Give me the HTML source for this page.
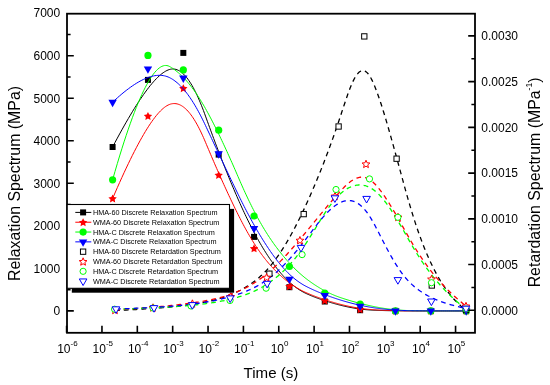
<!DOCTYPE html>
<html><head><meta charset="utf-8"><style>html,body{margin:0;padding:0;background:#fff;}svg{display:block;}</style></head>
<body><svg width="550" height="385" viewBox="0 0 550 385">
<rect width="550" height="385" fill="#fff"/>
<defs><clipPath id="cp"><rect x="67.0" y="13.7" width="408.0" height="319.1"/></clipPath></defs>
<g clip-path="url(#cp)">
<path d="M112.60,147.00 L114.99,142.50 L117.33,138.14 L119.62,133.94 L121.86,129.88 L124.06,125.96 L126.21,122.19 L128.32,118.56 L130.38,115.07 L132.39,111.72 L134.36,108.51 L136.29,105.43 L138.18,102.49 L140.02,99.69 L141.83,97.01 L143.59,94.47 L145.32,92.06 L147.00,89.78 L148.65,87.62 L150.26,85.59 L151.84,83.68 L153.38,81.89 L154.88,80.23 L156.35,78.69 L157.78,77.27 L159.18,75.96 L160.55,74.77 L161.89,73.69 L163.19,72.73 L164.46,71.88 L165.71,71.14 L166.92,70.51 L168.11,69.98 L169.27,69.57 L170.40,69.26 L171.53,69.06 L172.66,68.98 L173.77,69.02 L174.88,69.16 L175.99,69.42 L177.09,69.78 L178.19,70.25 L179.28,70.82 L180.37,71.51 L181.45,72.29 L182.53,73.18 L183.60,74.17 L184.68,75.26 L185.74,76.44 L186.81,77.73 L187.87,79.11 L188.92,80.59 L189.98,82.16 L191.03,83.82 L192.08,85.57 L193.12,87.42 L194.16,89.35 L195.20,91.37 L196.24,93.48 L197.27,95.67 L198.31,97.95 L199.34,100.31 L200.37,102.75 L201.39,105.27 L202.42,107.87 L203.44,110.54 L204.47,113.30 L205.49,116.11 L206.51,118.93 L207.53,121.74 L208.55,124.54 L209.57,127.33 L210.58,130.11 L211.60,132.88 L212.62,135.63 L213.63,138.37 L214.65,141.09 L215.67,143.80 L216.69,146.49 L217.70,149.16 L218.72,151.82 L219.74,154.46 L220.75,157.08 L221.77,159.68 L222.79,162.27 L223.81,164.85 L224.82,167.40 L225.84,169.94 L226.86,172.46 L227.87,174.96 L228.89,177.45 L229.91,179.92 L230.92,182.37 L231.94,184.80 L232.96,187.21 L233.98,189.61 L234.99,191.99 L236.01,194.35 L237.03,196.69 L238.04,199.02 L239.06,201.32 L240.08,203.60 L241.09,205.86 L242.11,208.09 L243.13,210.30 L244.15,212.47 L245.16,214.63 L246.18,216.75 L247.20,218.86 L248.21,220.93 L249.23,222.98 L250.25,225.00 L251.27,227.00 L252.28,228.97 L253.30,230.91 L254.32,232.82 L255.33,234.71 L256.35,236.58 L257.37,238.41 L258.38,240.22 L259.40,242.00 L260.42,243.76 L261.44,245.49 L262.45,247.19 L263.47,248.87 L264.49,250.51 L265.50,252.14 L266.52,253.73 L267.54,255.30 L268.56,256.84 L269.57,258.35 L270.59,259.84 L271.61,261.30 L272.62,262.73 L273.64,264.13 L274.66,265.50 L275.67,266.85 L276.69,268.16 L277.71,269.45 L278.73,270.70 L279.74,271.93 L280.76,273.13 L281.78,274.29 L282.79,275.43 L283.81,276.54 L284.83,277.62 L285.84,278.67 L286.86,279.68 L287.88,280.67 L288.90,281.63 L289.91,282.56 L290.93,283.46 L291.95,284.33 L292.96,285.17 L293.98,285.98 L295.00,286.76 L296.02,287.52 L297.03,288.24 L298.05,288.94 L299.07,289.61 L300.08,290.25 L301.10,290.87 L302.12,291.45 L303.13,292.01 L304.15,292.55 L305.17,293.06 L306.19,293.54 L307.20,294.00 L308.22,294.45 L309.24,294.89 L310.25,295.33 L311.27,295.75 L312.29,296.17 L313.30,296.58 L314.32,296.98 L315.34,297.37 L316.36,297.76 L317.37,298.14 L318.39,298.51 L319.41,298.87 L320.42,299.23 L321.44,299.59 L322.46,299.93 L323.48,300.27 L324.49,300.61 L325.51,300.94 L326.53,301.26 L327.54,301.58 L328.56,301.90 L329.58,302.21 L330.59,302.51 L331.61,302.82 L332.63,303.11 L333.65,303.40 L334.66,303.69 L335.68,303.97 L336.70,304.25 L337.71,304.52 L338.73,304.79 L339.75,305.05 L340.77,305.31 L341.78,305.56 L342.80,305.81 L343.82,306.05 L344.83,306.28 L345.85,306.51 L346.87,306.73 L347.88,306.94 L348.90,307.15 L349.92,307.35 L350.94,307.54 L351.95,307.73 L352.97,307.92 L353.99,308.09 L355.00,308.26 L356.02,308.42 L357.04,308.58 L358.05,308.73 L359.07,308.87 L360.09,309.01 L361.11,309.14 L362.12,309.26 L363.14,309.38 L364.16,309.49 L365.17,309.60 L366.19,309.69 L367.21,309.78 L368.23,309.87 L369.24,309.95 L370.26,310.02 L371.28,310.08 L372.30,310.14 L373.32,310.19 L374.34,310.24 L375.37,310.28 L376.39,310.33 L377.42,310.37 L378.44,310.40 L379.47,310.44 L380.50,310.47 L381.54,310.50 L382.57,310.53 L383.61,310.56 L384.65,310.59 L385.69,310.61 L386.73,310.64 L387.78,310.66 L388.83,310.68 L389.89,310.70 L390.94,310.72 L392.00,310.73 L393.07,310.75 L394.13,310.76 L395.20,310.78 L396.28,310.79 L397.36,310.80 L398.44,310.81 L399.53,310.82 L400.62,310.83 L401.72,310.83 L402.82,310.84 L403.93,310.85 L405.04,310.85 L406.15,310.86 L407.28,310.86 L408.40,310.86 L409.54,310.87 L410.70,310.87 L411.89,310.87 L413.10,310.88 L414.34,310.88 L415.62,310.88 L416.92,310.88 L418.26,310.88 L419.63,310.89 L421.03,310.89 L422.46,310.89 L423.93,310.89 L425.43,310.89 L426.97,310.89 L428.54,310.89 L430.16,310.89 L431.80,310.90 L433.49,310.90 L435.22,310.90 L436.98,310.90 L438.78,310.90 L440.63,310.90 L442.52,310.90 L444.45,310.90 L446.42,310.90 L448.43,310.90 L450.49,310.90 L452.60,310.90 L454.75,310.90 L456.94,310.90 L459.19,310.90 L461.48,310.90 L463.82,310.90 L466.20,310.90" fill="none" stroke="#000" stroke-width="1.0"/>
<rect x="109.60" y="144.00" width="6.0" height="6.0" fill="#000"/>
<rect x="144.96" y="76.90" width="6.0" height="6.0" fill="#000"/>
<rect x="180.32" y="49.90" width="6.0" height="6.0" fill="#000"/>
<rect x="215.68" y="151.60" width="6.0" height="6.0" fill="#000"/>
<rect x="251.04" y="233.90" width="6.0" height="6.0" fill="#000"/>
<rect x="286.40" y="284.20" width="6.0" height="6.0" fill="#000"/>
<rect x="321.76" y="298.50" width="6.0" height="6.0" fill="#000"/>
<rect x="357.12" y="307.20" width="6.0" height="6.0" fill="#000"/>
<rect x="392.48" y="307.90" width="6.0" height="6.0" fill="#000"/>
<rect x="427.84" y="307.90" width="6.0" height="6.0" fill="#000"/>
<rect x="463.20" y="307.90" width="6.0" height="6.0" fill="#000"/>
<path d="M112.60,198.50 L114.99,192.97 L117.33,187.62 L119.62,182.47 L121.86,177.50 L124.06,172.72 L126.21,168.11 L128.32,163.69 L130.38,159.44 L132.39,155.37 L134.36,151.47 L136.29,147.75 L138.18,144.19 L140.02,140.79 L141.83,137.57 L143.59,134.50 L145.32,131.59 L147.00,128.84 L148.65,126.25 L150.26,123.81 L151.84,121.52 L153.38,119.38 L154.88,117.39 L156.35,115.54 L157.78,113.84 L159.18,112.27 L160.55,110.85 L161.89,109.55 L163.19,108.40 L164.46,107.37 L165.71,106.48 L166.92,105.71 L168.11,105.07 L169.27,104.55 L170.40,104.14 L171.53,103.85 L172.66,103.66 L173.77,103.57 L174.88,103.58 L175.99,103.69 L177.09,103.89 L178.19,104.19 L179.28,104.59 L180.37,105.08 L181.45,105.67 L182.53,106.34 L183.60,107.11 L184.68,107.97 L185.74,108.91 L186.81,109.95 L187.87,111.07 L188.92,112.27 L189.98,113.56 L191.03,114.93 L192.08,116.39 L193.12,117.92 L194.16,119.54 L195.20,121.23 L196.24,123.00 L197.27,124.85 L198.31,126.78 L199.34,128.77 L200.37,130.85 L201.39,132.99 L202.42,135.21 L203.44,137.49 L204.47,139.85 L205.49,142.26 L206.51,144.67 L207.53,147.09 L208.55,149.49 L209.57,151.89 L210.58,154.29 L211.60,156.67 L212.62,159.05 L213.63,161.42 L214.65,163.77 L215.67,166.12 L216.69,168.45 L217.70,170.77 L218.72,173.08 L219.74,175.37 L220.75,177.66 L221.77,179.93 L222.79,182.19 L223.81,184.43 L224.82,186.67 L225.84,188.89 L226.86,191.09 L227.87,193.29 L228.89,195.47 L229.91,197.63 L230.92,199.78 L231.94,201.92 L232.96,204.05 L233.98,206.16 L234.99,208.25 L236.01,210.33 L237.03,212.40 L238.04,214.45 L239.06,216.48 L240.08,218.49 L241.09,220.47 L242.11,222.43 L243.13,224.35 L244.15,226.25 L245.16,228.12 L246.18,229.96 L247.20,231.77 L248.21,233.56 L249.23,235.31 L250.25,237.04 L251.27,238.74 L252.28,240.41 L253.30,242.05 L254.32,243.66 L255.33,245.24 L256.35,246.79 L257.37,248.31 L258.38,249.80 L259.40,251.27 L260.42,252.70 L261.44,254.11 L262.45,255.49 L263.47,256.84 L264.49,258.16 L265.50,259.46 L266.52,260.72 L267.54,261.96 L268.56,263.17 L269.57,264.36 L270.59,265.51 L271.61,266.64 L272.62,267.74 L273.64,268.81 L274.66,269.87 L275.67,270.90 L276.69,271.91 L277.71,272.91 L278.73,273.88 L279.74,274.83 L280.76,275.76 L281.78,276.67 L282.79,277.56 L283.81,278.43 L284.83,279.28 L285.84,280.11 L286.86,280.92 L287.88,281.71 L288.90,282.48 L289.91,283.23 L290.93,283.96 L291.95,284.67 L292.96,285.37 L293.98,286.04 L295.00,286.69 L296.02,287.33 L297.03,287.95 L298.05,288.54 L299.07,289.12 L300.08,289.69 L301.10,290.23 L302.12,290.76 L303.13,291.26 L304.15,291.75 L305.17,292.23 L306.19,292.68 L307.20,293.12 L308.22,293.56 L309.24,293.98 L310.25,294.41 L311.27,294.82 L312.29,295.23 L313.30,295.63 L314.32,296.02 L315.34,296.41 L316.36,296.79 L317.37,297.16 L318.39,297.53 L319.41,297.90 L320.42,298.26 L321.44,298.61 L322.46,298.96 L323.48,299.30 L324.49,299.64 L325.51,299.97 L326.53,300.30 L327.54,300.62 L328.56,300.94 L329.58,301.25 L330.59,301.56 L331.61,301.87 L332.63,302.17 L333.65,302.46 L334.66,302.76 L335.68,303.04 L336.70,303.32 L337.71,303.60 L338.73,303.88 L339.75,304.14 L340.77,304.41 L341.78,304.66 L342.80,304.92 L343.82,305.16 L344.83,305.40 L345.85,305.64 L346.87,305.87 L347.88,306.09 L348.90,306.31 L349.92,306.52 L350.94,306.72 L351.95,306.92 L352.97,307.11 L353.99,307.30 L355.00,307.48 L356.02,307.66 L357.04,307.83 L358.05,307.99 L359.07,308.15 L360.09,308.30 L361.11,308.44 L362.12,308.58 L363.14,308.72 L364.16,308.84 L365.17,308.96 L366.19,309.08 L367.21,309.19 L368.23,309.29 L369.24,309.39 L370.26,309.48 L371.28,309.56 L372.30,309.64 L373.32,309.71 L374.34,309.78 L375.37,309.84 L376.39,309.91 L377.42,309.96 L378.44,310.02 L379.47,310.08 L380.50,310.13 L381.54,310.18 L382.57,310.23 L383.61,310.27 L384.65,310.32 L385.69,310.36 L386.73,310.40 L387.78,310.43 L388.83,310.47 L389.89,310.50 L390.94,310.53 L392.00,310.56 L393.07,310.59 L394.13,310.62 L395.20,310.64 L396.28,310.67 L397.36,310.69 L398.44,310.71 L399.53,310.73 L400.62,310.74 L401.72,310.76 L402.82,310.77 L403.93,310.79 L405.04,310.80 L406.15,310.81 L407.28,310.82 L408.40,310.82 L409.54,310.83 L410.70,310.84 L411.89,310.84 L413.10,310.85 L414.34,310.85 L415.62,310.86 L416.92,310.86 L418.26,310.87 L419.63,310.87 L421.03,310.87 L422.46,310.88 L423.93,310.88 L425.43,310.88 L426.97,310.88 L428.54,310.89 L430.16,310.89 L431.80,310.89 L433.49,310.89 L435.22,310.89 L436.98,310.89 L438.78,310.90 L440.63,310.90 L442.52,310.90 L444.45,310.90 L446.42,310.90 L448.43,310.90 L450.49,310.90 L452.60,310.90 L454.75,310.90 L456.94,310.90 L459.19,310.90 L461.48,310.90 L463.82,310.90 L466.20,310.90" fill="none" stroke="#ff0000" stroke-width="1.0"/>
<path d="M112.60,194.50 L113.90,197.12 L116.79,197.54 L114.70,199.58 L115.19,202.46 L112.60,201.10 L110.02,202.46 L110.51,199.58 L108.42,197.54 L111.31,197.12Z" fill="#ff0000"/>
<path d="M147.96,112.00 L149.26,114.62 L152.15,115.04 L150.06,117.08 L150.55,119.96 L147.96,118.60 L145.38,119.96 L145.87,117.08 L143.78,115.04 L146.67,114.62Z" fill="#ff0000"/>
<path d="M183.32,84.20 L184.62,86.82 L187.51,87.24 L185.42,89.28 L185.91,92.16 L183.32,90.80 L180.74,92.16 L181.23,89.28 L179.14,87.24 L182.03,86.82Z" fill="#ff0000"/>
<path d="M218.68,171.00 L219.98,173.62 L222.87,174.04 L220.78,176.08 L221.27,178.96 L218.68,177.60 L216.10,178.96 L216.59,176.08 L214.50,174.04 L217.39,173.62Z" fill="#ff0000"/>
<path d="M254.04,244.30 L255.34,246.92 L258.23,247.34 L256.14,249.38 L256.63,252.26 L254.04,250.90 L251.46,252.26 L251.95,249.38 L249.86,247.34 L252.75,246.92Z" fill="#ff0000"/>
<path d="M289.40,282.20 L290.70,284.82 L293.59,285.24 L291.50,287.28 L291.99,290.16 L289.40,288.80 L286.82,290.16 L287.31,287.28 L285.22,285.24 L288.11,284.82Z" fill="#ff0000"/>
<path d="M324.76,296.50 L326.06,299.12 L328.95,299.54 L326.86,301.58 L327.35,304.46 L324.76,303.10 L322.18,304.46 L322.67,301.58 L320.58,299.54 L323.47,299.12Z" fill="#ff0000"/>
<path d="M360.12,305.40 L361.42,308.02 L364.31,308.44 L362.22,310.48 L362.71,313.36 L360.12,312.00 L357.54,313.36 L358.03,310.48 L355.94,308.44 L358.83,308.02Z" fill="#ff0000"/>
<path d="M395.48,306.90 L396.78,309.52 L399.67,309.94 L397.58,311.98 L398.07,314.86 L395.48,313.50 L392.90,314.86 L393.39,311.98 L391.30,309.94 L394.19,309.52Z" fill="#ff0000"/>
<path d="M430.84,306.90 L432.14,309.52 L435.03,309.94 L432.94,311.98 L433.43,314.86 L430.84,313.50 L428.26,314.86 L428.75,311.98 L426.66,309.94 L429.55,309.52Z" fill="#ff0000"/>
<path d="M466.20,306.90 L467.50,309.52 L470.39,309.94 L468.30,311.98 L468.79,314.86 L466.20,313.50 L463.62,314.86 L464.11,311.98 L462.02,309.94 L464.91,309.52Z" fill="#ff0000"/>
<path d="M112.60,179.80 L114.99,171.50 L117.33,163.56 L119.62,155.97 L121.86,148.74 L124.06,141.86 L126.21,135.32 L128.32,129.11 L130.38,123.23 L132.39,117.67 L134.36,112.43 L136.29,107.50 L138.18,102.88 L140.02,98.56 L141.83,94.54 L143.59,90.80 L145.32,87.34 L147.00,84.17 L148.65,81.26 L150.26,78.62 L151.84,76.24 L153.38,74.11 L154.88,72.24 L156.35,70.60 L157.78,69.20 L159.18,68.04 L160.55,67.09 L161.89,66.37 L163.19,65.86 L164.46,65.56 L165.71,65.47 L166.92,65.57 L168.11,65.86 L169.27,66.33 L170.40,66.95 L171.53,67.63 L172.66,68.35 L173.77,69.12 L174.88,69.93 L175.99,70.78 L177.09,71.66 L178.19,72.57 L179.28,73.52 L180.37,74.51 L181.45,75.53 L182.53,76.59 L183.60,77.69 L184.68,78.81 L185.74,79.98 L186.81,81.17 L187.87,82.41 L188.92,83.67 L189.98,84.98 L191.03,86.31 L192.08,87.68 L193.12,89.09 L194.16,90.53 L195.20,92.00 L196.24,93.51 L197.27,95.05 L198.31,96.62 L199.34,98.23 L200.37,99.88 L201.39,101.55 L202.42,103.26 L203.44,105.00 L204.47,106.78 L205.49,108.59 L206.51,110.42 L207.53,112.27 L208.55,114.14 L209.57,116.04 L210.58,117.95 L211.60,119.89 L212.62,121.85 L213.63,123.83 L214.65,125.83 L215.67,127.85 L216.69,129.90 L217.70,131.96 L218.72,134.04 L219.74,136.14 L220.75,138.26 L221.77,140.39 L222.79,142.55 L223.81,144.72 L224.82,146.90 L225.84,149.11 L226.86,151.32 L227.87,153.56 L228.89,155.80 L229.91,158.07 L230.92,160.34 L231.94,162.63 L232.96,164.93 L233.98,167.24 L234.99,169.57 L236.01,171.90 L237.03,174.25 L238.04,176.61 L239.06,178.97 L240.08,181.32 L241.09,183.65 L242.11,185.95 L243.13,188.22 L244.15,190.47 L245.16,192.70 L246.18,194.89 L247.20,197.06 L248.21,199.21 L249.23,201.32 L250.25,203.41 L251.27,205.47 L252.28,207.50 L253.30,209.50 L254.32,211.47 L255.33,213.41 L256.35,215.32 L257.37,217.20 L258.38,219.06 L259.40,220.88 L260.42,222.68 L261.44,224.45 L262.45,226.19 L263.47,227.90 L264.49,229.59 L265.50,231.24 L266.52,232.87 L267.54,234.47 L268.56,236.04 L269.57,237.59 L270.59,239.10 L271.61,240.59 L272.62,242.05 L273.64,243.49 L274.66,244.91 L275.67,246.30 L276.69,247.67 L277.71,249.03 L278.73,250.36 L279.74,251.67 L280.76,252.96 L281.78,254.23 L282.79,255.48 L283.81,256.71 L284.83,257.91 L285.84,259.10 L286.86,260.27 L287.88,261.42 L288.90,262.54 L289.91,263.65 L290.93,264.74 L291.95,265.81 L292.96,266.85 L293.98,267.88 L295.00,268.89 L296.02,269.88 L297.03,270.85 L298.05,271.80 L299.07,272.73 L300.08,273.64 L301.10,274.53 L302.12,275.41 L303.13,276.26 L304.15,277.10 L305.17,277.91 L306.19,278.71 L307.20,279.49 L308.22,280.25 L309.24,281.01 L310.25,281.74 L311.27,282.47 L312.29,283.18 L313.30,283.87 L314.32,284.56 L315.34,285.22 L316.36,285.88 L317.37,286.52 L318.39,287.15 L319.41,287.76 L320.42,288.36 L321.44,288.95 L322.46,289.53 L323.48,290.09 L324.49,290.63 L325.51,291.17 L326.53,291.69 L327.54,292.20 L328.56,292.70 L329.58,293.18 L330.59,293.65 L331.61,294.11 L332.63,294.56 L333.65,294.99 L334.66,295.41 L335.68,295.82 L336.70,296.22 L337.71,296.60 L338.73,296.97 L339.75,297.33 L340.77,297.68 L341.78,298.03 L342.80,298.37 L343.82,298.70 L344.83,299.03 L345.85,299.35 L346.87,299.67 L347.88,299.98 L348.90,300.29 L349.92,300.59 L350.94,300.89 L351.95,301.19 L352.97,301.48 L353.99,301.76 L355.00,302.04 L356.02,302.32 L357.04,302.59 L358.05,302.86 L359.07,303.12 L360.09,303.38 L361.11,303.64 L362.12,303.89 L363.14,304.14 L364.16,304.38 L365.17,304.62 L366.19,304.86 L367.21,305.10 L368.23,305.33 L369.24,305.56 L370.26,305.78 L371.28,306.00 L372.30,306.22 L373.32,306.43 L374.34,306.64 L375.37,306.85 L376.39,307.05 L377.42,307.24 L378.44,307.43 L379.47,307.62 L380.50,307.80 L381.54,307.97 L382.57,308.14 L383.61,308.30 L384.65,308.46 L385.69,308.61 L386.73,308.76 L387.78,308.90 L388.83,309.04 L389.89,309.17 L390.94,309.30 L392.00,309.42 L393.07,309.53 L394.13,309.64 L395.20,309.74 L396.28,309.84 L397.36,309.94 L398.44,310.02 L399.53,310.10 L400.62,310.18 L401.72,310.25 L402.82,310.31 L403.93,310.37 L405.04,310.43 L406.15,310.47 L407.28,310.52 L408.40,310.55 L409.54,310.58 L410.70,310.61 L411.89,310.64 L413.10,310.66 L414.34,310.69 L415.62,310.71 L416.92,310.73 L418.26,310.75 L419.63,310.76 L421.03,310.78 L422.46,310.79 L423.93,310.81 L425.43,310.82 L426.97,310.83 L428.54,310.84 L430.16,310.85 L431.80,310.86 L433.49,310.86 L435.22,310.87 L436.98,310.88 L438.78,310.88 L440.63,310.88 L442.52,310.89 L444.45,310.89 L446.42,310.89 L448.43,310.90 L450.49,310.90 L452.60,310.90 L454.75,310.90 L456.94,310.90 L459.19,310.90 L461.48,310.90 L463.82,310.90 L466.20,310.90" fill="none" stroke="#00ff00" stroke-width="1.0"/>
<circle cx="112.60" cy="179.80" r="3.6" fill="#00ff00"/>
<circle cx="147.96" cy="55.40" r="3.6" fill="#00ff00"/>
<circle cx="183.32" cy="69.90" r="3.6" fill="#00ff00"/>
<circle cx="218.68" cy="130.20" r="3.6" fill="#00ff00"/>
<circle cx="254.04" cy="216.00" r="3.6" fill="#00ff00"/>
<circle cx="289.40" cy="266.50" r="3.6" fill="#00ff00"/>
<circle cx="324.76" cy="293.00" r="3.6" fill="#00ff00"/>
<circle cx="360.12" cy="304.00" r="3.6" fill="#00ff00"/>
<circle cx="395.48" cy="310.90" r="3.6" fill="#00ff00"/>
<circle cx="430.84" cy="310.90" r="3.6" fill="#00ff00"/>
<circle cx="466.20" cy="310.90" r="3.6" fill="#00ff00"/>
<path d="M112.60,102.20 L114.99,99.98 L117.33,97.87 L119.62,95.86 L121.86,93.95 L124.06,92.14 L126.21,90.44 L128.32,88.83 L130.38,87.32 L132.39,85.90 L134.36,84.58 L136.29,83.36 L138.18,82.22 L140.02,81.18 L141.83,80.23 L143.59,79.36 L145.32,78.58 L147.00,77.89 L148.65,77.29 L150.26,76.76 L151.84,76.32 L153.38,75.96 L154.88,75.68 L156.35,75.48 L157.78,75.36 L159.18,75.31 L160.55,75.33 L161.89,75.43 L163.19,75.60 L164.46,75.84 L165.71,76.16 L166.92,76.54 L168.11,76.98 L169.27,77.49 L170.40,78.07 L171.53,78.70 L172.66,79.39 L173.77,80.14 L174.88,80.94 L175.99,81.80 L177.09,82.70 L178.19,83.66 L179.28,84.68 L180.37,85.74 L181.45,86.86 L182.53,88.02 L183.60,89.24 L184.68,90.50 L185.74,91.82 L186.81,93.18 L187.87,94.59 L188.92,96.05 L189.98,97.56 L191.03,99.12 L192.08,100.72 L193.12,102.36 L194.16,104.06 L195.20,105.79 L196.24,107.57 L197.27,109.40 L198.31,111.27 L199.34,113.18 L200.37,115.13 L201.39,117.13 L202.42,119.17 L203.44,121.25 L204.47,123.37 L205.49,125.52 L206.51,127.68 L207.53,129.84 L208.55,132.01 L209.57,134.17 L210.58,136.34 L211.60,138.51 L212.62,140.68 L213.63,142.84 L214.65,145.01 L215.67,147.17 L216.69,149.34 L217.70,151.50 L218.72,153.66 L219.74,155.82 L220.75,157.97 L221.77,160.13 L222.79,162.28 L223.81,164.43 L224.82,166.57 L225.84,168.72 L226.86,170.86 L227.87,173.00 L228.89,175.13 L229.91,177.26 L230.92,179.39 L231.94,181.51 L232.96,183.63 L233.98,185.74 L234.99,187.85 L236.01,189.96 L237.03,192.06 L238.04,194.16 L239.06,196.25 L240.08,198.32 L241.09,200.38 L242.11,202.42 L243.13,204.44 L244.15,206.44 L245.16,208.42 L246.18,210.39 L247.20,212.33 L248.21,214.26 L249.23,216.17 L250.25,218.06 L251.27,219.93 L252.28,221.78 L253.30,223.60 L254.32,225.41 L255.33,227.20 L256.35,228.97 L257.37,230.72 L258.38,232.45 L259.40,234.16 L260.42,235.85 L261.44,237.51 L262.45,239.16 L263.47,240.79 L264.49,242.39 L265.50,243.98 L266.52,245.54 L267.54,247.08 L268.56,248.60 L269.57,250.10 L270.59,251.58 L271.61,253.04 L272.62,254.48 L273.64,255.89 L274.66,257.27 L275.67,258.63 L276.69,259.96 L277.71,261.26 L278.73,262.53 L279.74,263.78 L280.76,265.00 L281.78,266.19 L282.79,267.35 L283.81,268.49 L284.83,269.59 L285.84,270.67 L286.86,271.72 L287.88,272.74 L288.90,273.73 L289.91,274.70 L290.93,275.63 L291.95,276.54 L292.96,277.42 L293.98,278.27 L295.00,279.10 L296.02,279.89 L297.03,280.66 L298.05,281.41 L299.07,282.12 L300.08,282.81 L301.10,283.47 L302.12,284.11 L303.13,284.72 L304.15,285.31 L305.17,285.87 L306.19,286.40 L307.20,286.92 L308.22,287.43 L309.24,287.93 L310.25,288.41 L311.27,288.90 L312.29,289.37 L313.30,289.83 L314.32,290.29 L315.34,290.74 L316.36,291.19 L317.37,291.62 L318.39,292.05 L319.41,292.47 L320.42,292.89 L321.44,293.30 L322.46,293.70 L323.48,294.10 L324.49,294.49 L325.51,294.88 L326.53,295.26 L327.54,295.64 L328.56,296.01 L329.58,296.38 L330.59,296.74 L331.61,297.10 L332.63,297.46 L333.65,297.81 L334.66,298.15 L335.68,298.49 L336.70,298.83 L337.71,299.16 L338.73,299.48 L339.75,299.81 L340.77,300.12 L341.78,300.43 L342.80,300.74 L343.82,301.04 L344.83,301.34 L345.85,301.63 L346.87,301.92 L347.88,302.20 L348.90,302.48 L349.92,302.75 L350.94,303.02 L351.95,303.29 L352.97,303.55 L353.99,303.80 L355.00,304.05 L356.02,304.29 L357.04,304.53 L358.05,304.76 L359.07,304.99 L360.09,305.22 L361.11,305.44 L362.12,305.65 L363.14,305.86 L364.16,306.07 L365.17,306.27 L366.19,306.46 L367.21,306.65 L368.23,306.84 L369.24,307.02 L370.26,307.19 L371.28,307.36 L372.30,307.53 L373.32,307.69 L374.34,307.85 L375.37,308.00 L376.39,308.15 L377.42,308.29 L378.44,308.43 L379.47,308.56 L380.50,308.70 L381.54,308.82 L382.57,308.94 L383.61,309.06 L384.65,309.18 L385.69,309.29 L386.73,309.39 L387.78,309.50 L388.83,309.59 L389.89,309.69 L390.94,309.78 L392.00,309.86 L393.07,309.94 L394.13,310.02 L395.20,310.09 L396.28,310.16 L397.36,310.23 L398.44,310.29 L399.53,310.35 L400.62,310.40 L401.72,310.45 L402.82,310.49 L403.93,310.53 L405.04,310.57 L406.15,310.60 L407.28,310.63 L408.40,310.66 L409.54,310.68 L410.70,310.70 L411.89,310.72 L413.10,310.73 L414.34,310.75 L415.62,310.77 L416.92,310.78 L418.26,310.79 L419.63,310.80 L421.03,310.82 L422.46,310.83 L423.93,310.83 L425.43,310.84 L426.97,310.85 L428.54,310.86 L430.16,310.86 L431.80,310.87 L433.49,310.87 L435.22,310.88 L436.98,310.88 L438.78,310.89 L440.63,310.89 L442.52,310.89 L444.45,310.89 L446.42,310.90 L448.43,310.90 L450.49,310.90 L452.60,310.90 L454.75,310.90 L456.94,310.90 L459.19,310.90 L461.48,310.90 L463.82,310.90 L466.20,310.90" fill="none" stroke="#0000ff" stroke-width="1.0"/>
<path d="M108.40,99.73 L116.80,99.73 L112.60,107.13Z" fill="#0000ff"/>
<path d="M143.76,66.43 L152.16,66.43 L147.96,73.83Z" fill="#0000ff"/>
<path d="M179.12,75.58 L187.52,75.58 L183.32,82.98Z" fill="#0000ff"/>
<path d="M214.48,151.28 L222.88,151.28 L218.68,158.68Z" fill="#0000ff"/>
<path d="M249.84,225.88 L258.24,225.88 L254.04,233.28Z" fill="#0000ff"/>
<path d="M285.20,276.63 L293.60,276.63 L289.40,284.03Z" fill="#0000ff"/>
<path d="M320.56,292.93 L328.96,292.93 L324.76,300.33Z" fill="#0000ff"/>
<path d="M355.92,303.63 L364.32,303.63 L360.12,311.03Z" fill="#0000ff"/>
<path d="M391.28,308.43 L399.68,308.43 L395.48,315.83Z" fill="#0000ff"/>
<path d="M426.64,308.43 L435.04,308.43 L430.84,315.83Z" fill="#0000ff"/>
<path d="M462.00,308.43 L470.40,308.43 L466.20,315.83Z" fill="#0000ff"/>
<path d="M115.00,310.50 L117.83,310.38 L120.59,310.26 L123.29,310.14 L125.94,310.02 L128.52,309.90 L131.05,309.77 L133.52,309.64 L135.93,309.51 L138.29,309.38 L140.60,309.25 L142.85,309.11 L145.05,308.97 L147.21,308.83 L149.31,308.69 L151.37,308.55 L153.39,308.41 L155.35,308.26 L157.28,308.11 L159.16,307.96 L161.00,307.81 L162.80,307.66 L164.56,307.50 L166.29,307.35 L167.98,307.19 L169.63,307.03 L171.25,306.87 L172.83,306.71 L174.38,306.55 L175.91,306.38 L177.40,306.21 L178.87,306.05 L180.30,305.88 L181.72,305.71 L183.11,305.53 L184.47,305.36 L185.83,305.18 L187.16,305.00 L188.48,304.82 L189.78,304.64 L191.07,304.46 L192.34,304.27 L193.60,304.08 L194.84,303.89 L196.07,303.70 L197.29,303.50 L198.50,303.30 L199.69,303.10 L200.88,302.89 L202.05,302.67 L203.21,302.46 L204.36,302.24 L205.50,302.01 L206.63,301.78 L207.75,301.54 L208.87,301.30 L209.97,301.05 L211.07,300.80 L212.16,300.54 L213.24,300.28 L214.32,300.01 L215.39,299.73 L216.45,299.44 L217.51,299.15 L218.57,298.85 L219.62,298.55 L220.66,298.23 L221.70,297.91 L222.74,297.58 L223.78,297.23 L224.82,296.88 L225.85,296.52 L226.88,296.14 L227.92,295.76 L228.95,295.36 L229.98,294.96 L231.02,294.54 L232.05,294.11 L233.09,293.67 L234.12,293.21 L235.16,292.75 L236.19,292.27 L237.23,291.77 L238.27,291.26 L239.30,290.74 L240.34,290.21 L241.37,289.65 L242.41,289.09 L243.45,288.51 L244.48,287.91 L245.51,287.29 L246.55,286.66 L247.58,286.01 L248.61,285.35 L249.65,284.66 L250.68,283.96 L251.71,283.24 L252.74,282.51 L253.76,281.75 L254.79,280.97 L255.81,280.18 L256.84,279.36 L257.86,278.52 L258.88,277.65 L259.89,276.76 L260.91,275.85 L261.92,274.91 L262.93,273.95 L263.93,272.96 L264.94,271.95 L265.94,270.91 L266.94,269.84 L267.93,268.75 L268.92,267.63 L269.91,266.48 L270.90,265.31 L271.88,264.11 L272.86,262.89 L273.84,261.63 L274.82,260.35 L275.79,259.05 L276.76,257.72 L277.73,256.36 L278.69,254.98 L279.66,253.57 L280.62,252.14 L281.58,250.68 L282.53,249.19 L283.49,247.69 L284.44,246.15 L285.39,244.59 L286.34,243.01 L287.29,241.40 L288.24,239.77 L289.18,238.12 L290.13,236.44 L291.07,234.74 L292.02,233.01 L292.96,231.27 L293.90,229.50 L294.85,227.71 L295.79,225.89 L296.73,224.06 L297.67,222.20 L298.61,220.32 L299.56,218.42 L300.50,216.50 L301.44,214.56 L302.38,212.59 L303.32,210.61 L304.27,208.60 L305.21,206.58 L306.16,204.53 L307.10,202.46 L308.04,200.38 L308.99,198.27 L309.93,196.15 L310.87,194.01 L311.81,191.85 L312.75,189.67 L313.69,187.47 L314.63,185.26 L315.57,183.04 L316.50,180.80 L317.44,178.54 L318.37,176.27 L319.30,173.98 L320.23,171.68 L321.15,169.37 L322.07,167.05 L322.98,164.72 L323.90,162.39 L324.80,160.04 L325.71,157.69 L326.60,155.33 L327.50,152.96 L328.39,150.58 L329.27,148.20 L330.15,145.81 L331.02,143.42 L331.89,141.02 L332.75,138.62 L333.60,136.21 L334.45,133.80 L335.29,131.39 L336.13,128.97 L336.96,126.55 L337.78,124.13 L338.60,121.70 L339.41,119.28 L340.21,116.87 L341.01,114.46 L341.80,112.07 L342.59,109.69 L343.37,107.33 L344.15,104.99 L344.92,102.68 L345.68,100.40 L346.45,98.16 L347.21,95.95 L347.96,93.79 L348.71,91.70 L349.47,89.69 L350.22,87.75 L350.97,85.91 L351.72,84.14 L352.47,82.47 L353.22,80.90 L353.98,79.42 L354.73,78.04 L355.48,76.77 L356.24,75.60 L356.99,74.55 L357.75,73.61 L358.51,72.79 L359.27,72.10 L360.04,71.53 L360.81,71.09 L361.58,70.78 L362.35,70.60 L363.13,70.57 L363.91,70.68 L364.69,70.94 L365.48,71.35 L366.28,71.91 L367.08,72.63 L367.88,73.50 L368.69,74.53 L369.51,75.71 L370.33,77.04 L371.15,78.51 L371.99,80.13 L372.83,81.90 L373.67,83.80 L374.52,85.81 L375.38,87.93 L376.25,90.16 L377.12,92.48 L378.00,94.91 L378.89,97.44 L379.79,100.06 L380.69,102.77 L381.60,105.57 L382.52,108.46 L383.45,111.44 L384.39,114.50 L385.34,117.64 L386.29,120.86 L387.26,124.16 L388.23,127.53 L389.22,130.97 L390.22,134.48 L391.22,138.06 L392.24,141.70 L393.27,145.41 L394.31,149.17 L395.36,153.00 L396.42,156.87 L397.49,160.80 L398.58,164.78 L399.68,168.81 L400.79,172.89 L401.91,177.01 L403.05,181.16 L404.20,185.36 L405.37,189.58 L406.55,193.83 L407.76,198.09 L408.99,202.36 L410.24,206.62 L411.52,210.88 L412.83,215.13 L414.17,219.37 L415.54,223.58 L416.94,227.77 L418.37,231.93 L419.84,236.05 L421.34,240.14 L422.88,244.18 L424.46,248.17 L426.08,252.10 L427.74,255.98 L429.44,259.79 L431.18,263.53 L432.97,267.20 L434.80,270.79 L436.68,274.30 L438.61,277.71 L440.59,281.04 L442.62,284.26 L444.70,287.38 L446.84,290.39 L449.03,293.29 L451.27,296.07 L453.58,298.73 L455.94,301.26 L458.36,303.66 L460.84,305.92 L463.39,308.03 L466.00,310.00" fill="none" stroke="#000" stroke-width="1.3" stroke-dasharray="4.8 4.0"/>
<path d="M115.00,310.00 L117.90,309.81 L120.73,309.62 L123.49,309.43 L126.18,309.24 L128.81,309.06 L131.37,308.87 L133.87,308.69 L136.31,308.51 L138.69,308.33 L141.01,308.16 L143.27,307.98 L145.48,307.80 L147.63,307.63 L149.73,307.46 L151.77,307.29 L153.77,307.12 L155.72,306.95 L157.62,306.78 L159.48,306.61 L161.29,306.44 L163.06,306.28 L164.78,306.11 L166.47,305.94 L168.12,305.78 L169.73,305.61 L171.31,305.45 L172.85,305.29 L174.36,305.12 L175.83,304.96 L177.28,304.80 L178.70,304.63 L180.09,304.47 L181.46,304.30 L182.81,304.14 L184.13,303.98 L185.44,303.81 L186.74,303.64 L188.02,303.47 L189.29,303.31 L190.55,303.14 L191.79,302.96 L193.03,302.79 L194.25,302.62 L195.46,302.44 L196.66,302.26 L197.85,302.08 L199.03,301.89 L200.19,301.71 L201.35,301.52 L202.50,301.32 L203.64,301.13 L204.78,300.93 L205.90,300.72 L207.02,300.51 L208.12,300.30 L209.22,300.09 L210.32,299.87 L211.40,299.64 L212.48,299.41 L213.55,299.18 L214.62,298.94 L215.68,298.69 L216.74,298.44 L217.79,298.18 L218.84,297.92 L219.88,297.65 L220.92,297.38 L221.95,297.10 L222.98,296.81 L224.01,296.51 L225.03,296.20 L226.05,295.89 L227.07,295.56 L228.08,295.23 L229.10,294.89 L230.11,294.54 L231.12,294.18 L232.13,293.81 L233.14,293.43 L234.14,293.05 L235.15,292.65 L236.15,292.24 L237.15,291.83 L238.15,291.40 L239.15,290.96 L240.14,290.52 L241.14,290.06 L242.13,289.60 L243.12,289.12 L244.11,288.63 L245.10,288.13 L246.08,287.62 L247.07,287.11 L248.05,286.58 L249.03,286.03 L250.00,285.48 L250.98,284.92 L251.96,284.35 L252.93,283.76 L253.90,283.16 L254.87,282.56 L255.83,281.94 L256.80,281.30 L257.76,280.66 L258.72,280.00 L259.68,279.33 L260.64,278.64 L261.59,277.95 L262.55,277.24 L263.50,276.51 L264.45,275.78 L265.40,275.03 L266.34,274.27 L267.28,273.49 L268.23,272.70 L269.17,271.90 L270.10,271.09 L271.04,270.26 L271.97,269.42 L272.91,268.57 L273.84,267.71 L274.77,266.84 L275.70,265.95 L276.63,265.05 L277.55,264.14 L278.48,263.22 L279.40,262.29 L280.33,261.35 L281.25,260.40 L282.17,259.44 L283.09,258.47 L284.01,257.48 L284.93,256.49 L285.86,255.49 L286.78,254.48 L287.70,253.47 L288.62,252.44 L289.54,251.41 L290.46,250.37 L291.38,249.32 L292.31,248.27 L293.23,247.21 L294.15,246.14 L295.08,245.07 L296.01,243.99 L296.93,242.91 L297.86,241.81 L298.79,240.72 L299.72,239.61 L300.66,238.51 L301.59,237.39 L302.52,236.28 L303.46,235.15 L304.40,234.03 L305.33,232.90 L306.27,231.76 L307.21,230.62 L308.15,229.48 L309.09,228.34 L310.03,227.20 L310.97,226.05 L311.91,224.90 L312.86,223.75 L313.80,222.60 L314.74,221.45 L315.68,220.29 L316.62,219.14 L317.56,217.99 L318.50,216.85 L319.44,215.70 L320.37,214.57 L321.31,213.43 L322.24,212.30 L323.17,211.18 L324.10,210.06 L325.03,208.94 L325.95,207.83 L326.87,206.73 L327.79,205.63 L328.71,204.54 L329.63,203.45 L330.54,202.38 L331.45,201.31 L332.36,200.25 L333.27,199.19 L334.17,198.15 L335.07,197.11 L335.97,196.08 L336.86,195.07 L337.75,194.06 L338.64,193.07 L339.52,192.09 L340.41,191.13 L341.29,190.18 L342.16,189.25 L343.04,188.34 L343.91,187.45 L344.78,186.58 L345.65,185.73 L346.52,184.91 L347.38,184.12 L348.25,183.37 L349.11,182.65 L349.97,181.97 L350.84,181.34 L351.70,180.74 L352.56,180.18 L353.41,179.67 L354.27,179.20 L355.13,178.78 L355.99,178.40 L356.84,178.07 L357.70,177.79 L358.56,177.56 L359.41,177.38 L360.27,177.25 L361.13,177.18 L361.98,177.16 L362.84,177.20 L363.70,177.29 L364.56,177.45 L365.41,177.66 L366.27,177.93 L367.13,178.27 L367.99,178.67 L368.85,179.13 L369.71,179.65 L370.58,180.23 L371.44,180.88 L372.31,181.58 L373.18,182.35 L374.05,183.17 L374.93,184.05 L375.81,184.98 L376.69,185.95 L377.58,186.97 L378.47,188.03 L379.36,189.14 L380.26,190.29 L381.16,191.48 L382.07,192.72 L382.99,193.99 L383.91,195.30 L384.84,196.66 L385.77,198.05 L386.71,199.48 L387.66,200.94 L388.61,202.45 L389.57,203.98 L390.54,205.56 L391.52,207.16 L392.50,208.80 L393.50,210.48 L394.50,212.18 L395.51,213.92 L396.54,215.68 L397.57,217.48 L398.61,219.30 L399.66,221.16 L400.72,223.04 L401.80,224.95 L402.88,226.88 L403.98,228.84 L405.09,230.82 L406.21,232.82 L407.35,234.85 L408.51,236.90 L409.70,238.96 L410.91,241.04 L412.14,243.14 L413.41,245.25 L414.70,247.37 L416.03,249.51 L417.38,251.66 L418.77,253.82 L420.20,255.98 L421.66,258.16 L423.16,260.34 L424.70,262.53 L426.28,264.72 L427.91,266.92 L429.57,269.12 L431.29,271.33 L433.04,273.53 L434.85,275.73 L436.71,277.94 L438.61,280.14 L440.57,282.34 L442.59,284.53 L444.66,286.72 L446.78,288.90 L448.97,291.07 L451.21,293.24 L453.51,295.40 L455.88,297.54 L458.31,299.68 L460.81,301.80 L463.37,303.91 L466.00,306.00" fill="none" stroke="#ff0000" stroke-width="1.3" stroke-dasharray="4.8 4.0"/>
<path d="M114.60,309.20 L117.53,309.11 L120.38,309.02 L123.16,308.93 L125.88,308.83 L128.52,308.75 L131.09,308.66 L133.59,308.57 L136.03,308.48 L138.41,308.39 L140.73,308.30 L142.98,308.21 L145.18,308.13 L147.32,308.04 L149.41,307.95 L151.44,307.86 L153.42,307.78 L155.35,307.69 L157.23,307.60 L159.06,307.51 L160.85,307.42 L162.59,307.33 L164.29,307.24 L165.95,307.15 L167.57,307.06 L169.16,306.97 L170.70,306.88 L172.22,306.79 L173.70,306.69 L175.15,306.60 L176.56,306.50 L177.95,306.40 L179.32,306.31 L180.66,306.21 L181.98,306.11 L183.28,306.00 L184.57,305.90 L185.84,305.79 L187.10,305.69 L188.35,305.58 L189.59,305.46 L190.83,305.35 L192.05,305.23 L193.26,305.11 L194.46,304.99 L195.65,304.87 L196.84,304.74 L198.01,304.62 L199.18,304.48 L200.34,304.35 L201.49,304.21 L202.63,304.07 L203.77,303.93 L204.90,303.78 L206.02,303.63 L207.13,303.48 L208.24,303.33 L209.34,303.17 L210.44,303.01 L211.53,302.84 L212.61,302.67 L213.69,302.50 L214.77,302.32 L215.84,302.14 L216.90,301.96 L217.96,301.77 L219.02,301.58 L220.07,301.39 L221.12,301.18 L222.17,300.98 L223.21,300.77 L224.25,300.56 L225.28,300.34 L226.31,300.11 L227.34,299.89 L228.37,299.65 L229.39,299.41 L230.42,299.17 L231.44,298.92 L232.46,298.66 L233.48,298.40 L234.49,298.13 L235.50,297.86 L236.51,297.58 L237.52,297.29 L238.53,296.99 L239.54,296.69 L240.54,296.38 L241.55,296.06 L242.55,295.74 L243.55,295.40 L244.55,295.06 L245.54,294.70 L246.54,294.34 L247.53,293.97 L248.53,293.59 L249.52,293.20 L250.51,292.80 L251.50,292.39 L252.49,291.96 L253.47,291.53 L254.46,291.09 L255.45,290.63 L256.43,290.16 L257.42,289.67 L258.40,289.17 L259.39,288.66 L260.37,288.13 L261.35,287.59 L262.34,287.03 L263.32,286.46 L264.30,285.87 L265.29,285.27 L266.27,284.65 L267.25,284.01 L268.23,283.36 L269.21,282.69 L270.20,282.01 L271.18,281.30 L272.16,280.59 L273.14,279.85 L274.12,279.10 L275.10,278.33 L276.08,277.54 L277.06,276.74 L278.04,275.92 L279.02,275.08 L280.00,274.22 L280.98,273.34 L281.95,272.44 L282.93,271.53 L283.91,270.60 L284.88,269.65 L285.86,268.67 L286.83,267.68 L287.80,266.67 L288.77,265.64 L289.74,264.58 L290.71,263.51 L291.68,262.41 L292.65,261.29 L293.61,260.15 L294.58,258.99 L295.54,257.80 L296.50,256.60 L297.46,255.37 L298.42,254.11 L299.38,252.84 L300.33,251.54 L301.29,250.22 L302.24,248.87 L303.19,247.50 L304.14,246.11 L305.09,244.71 L306.03,243.28 L306.98,241.83 L307.92,240.37 L308.87,238.90 L309.81,237.41 L310.75,235.91 L311.69,234.40 L312.62,232.88 L313.56,231.36 L314.49,229.82 L315.43,228.29 L316.36,226.75 L317.29,225.21 L318.22,223.67 L319.15,222.15 L320.08,220.64 L321.01,219.14 L321.93,217.67 L322.86,216.21 L323.78,214.77 L324.71,213.35 L325.63,211.95 L326.56,210.58 L327.48,209.23 L328.40,207.91 L329.32,206.62 L330.25,205.36 L331.17,204.13 L332.09,202.93 L333.01,201.77 L333.93,200.64 L334.84,199.54 L335.76,198.49 L336.68,197.47 L337.60,196.50 L338.52,195.56 L339.44,194.67 L340.35,193.81 L341.27,193.00 L342.18,192.22 L343.10,191.49 L344.01,190.80 L344.93,190.14 L345.84,189.53 L346.75,188.95 L347.66,188.42 L348.57,187.92 L349.47,187.46 L350.38,187.04 L351.28,186.66 L352.18,186.32 L353.08,186.02 L353.97,185.75 L354.87,185.53 L355.76,185.34 L356.64,185.18 L357.53,185.07 L358.41,184.99 L359.29,184.96 L360.17,184.96 L361.04,184.99 L361.92,185.07 L362.78,185.18 L363.65,185.33 L364.51,185.51 L365.37,185.74 L366.22,186.00 L367.08,186.29 L367.92,186.63 L368.77,187.00 L369.61,187.40 L370.45,187.85 L371.28,188.33 L372.11,188.84 L372.94,189.40 L373.76,189.99 L374.59,190.62 L375.41,191.28 L376.23,191.99 L377.05,192.73 L377.88,193.50 L378.70,194.31 L379.53,195.16 L380.36,196.04 L381.19,196.96 L382.03,197.91 L382.87,198.90 L383.72,199.93 L384.57,200.99 L385.42,202.09 L386.28,203.23 L387.15,204.40 L388.03,205.61 L388.91,206.86 L389.80,208.14 L390.70,209.47 L391.60,210.83 L392.52,212.22 L393.44,213.66 L394.38,215.13 L395.32,216.65 L396.28,218.20 L397.25,219.79 L398.22,221.42 L399.21,223.09 L400.22,224.80 L401.23,226.54 L402.26,228.33 L403.31,230.16 L404.36,232.02 L405.44,233.93 L406.53,235.87 L407.64,237.84 L408.77,239.85 L409.93,241.88 L411.11,243.93 L412.33,246.01 L413.57,248.11 L414.85,250.23 L416.15,252.36 L417.49,254.52 L418.87,256.68 L420.28,258.87 L421.73,261.06 L423.22,263.26 L424.75,265.47 L426.32,267.69 L427.94,269.91 L429.60,272.14 L431.31,274.37 L433.06,276.60 L434.86,278.82 L436.72,281.05 L438.62,283.27 L440.58,285.48 L442.59,287.69 L444.66,289.89 L446.78,292.08 L448.97,294.25 L451.21,296.41 L453.51,298.56 L455.88,300.69 L458.31,302.80 L460.81,304.89 L463.37,306.96 L466.00,309.00" fill="none" stroke="#00ff00" stroke-width="1.3" stroke-dasharray="4.8 4.0"/>
<path d="M116.00,309.00 L118.90,308.91 L121.73,308.81 L124.48,308.72 L127.17,308.62 L129.79,308.52 L132.34,308.42 L134.83,308.32 L137.25,308.22 L139.61,308.12 L141.91,308.01 L144.16,307.91 L146.34,307.80 L148.47,307.69 L150.55,307.58 L152.57,307.47 L154.55,307.36 L156.47,307.25 L158.35,307.13 L160.17,307.02 L161.96,306.90 L163.70,306.78 L165.40,306.66 L167.05,306.54 L168.67,306.42 L170.25,306.30 L171.80,306.17 L173.31,306.05 L174.79,305.92 L176.24,305.79 L177.65,305.66 L179.04,305.53 L180.40,305.40 L181.74,305.26 L183.06,305.12 L184.35,304.99 L185.64,304.85 L186.90,304.71 L188.16,304.56 L189.40,304.42 L190.63,304.27 L191.86,304.12 L193.07,303.97 L194.27,303.82 L195.46,303.66 L196.63,303.50 L197.80,303.34 L198.97,303.18 L200.12,303.01 L201.26,302.84 L202.39,302.67 L203.52,302.49 L204.64,302.32 L205.75,302.13 L206.85,301.95 L207.95,301.76 L209.04,301.57 L210.12,301.38 L211.20,301.18 L212.27,300.97 L213.34,300.77 L214.40,300.56 L215.46,300.34 L216.51,300.12 L217.56,299.90 L218.60,299.67 L219.64,299.44 L220.68,299.21 L221.71,298.97 L222.74,298.72 L223.77,298.47 L224.80,298.21 L225.82,297.95 L226.85,297.68 L227.87,297.40 L228.89,297.12 L229.91,296.84 L230.93,296.55 L231.95,296.25 L232.96,295.94 L233.98,295.63 L235.00,295.31 L236.01,294.99 L237.02,294.65 L238.04,294.31 L239.05,293.96 L240.06,293.61 L241.07,293.24 L242.08,292.87 L243.08,292.48 L244.09,292.09 L245.09,291.69 L246.10,291.28 L247.10,290.86 L248.10,290.43 L249.10,289.99 L250.10,289.54 L251.10,289.08 L252.09,288.61 L253.08,288.12 L254.08,287.63 L255.07,287.12 L256.06,286.60 L257.04,286.07 L258.03,285.52 L259.01,284.96 L259.99,284.38 L260.97,283.79 L261.95,283.19 L262.92,282.57 L263.89,281.93 L264.86,281.28 L265.83,280.62 L266.80,279.93 L267.76,279.24 L268.72,278.52 L269.68,277.79 L270.64,277.05 L271.59,276.29 L272.55,275.51 L273.50,274.72 L274.45,273.92 L275.40,273.10 L276.34,272.27 L277.29,271.42 L278.23,270.55 L279.17,269.68 L280.11,268.79 L281.05,267.88 L281.98,266.96 L282.92,266.03 L283.85,265.08 L284.79,264.12 L285.72,263.15 L286.65,262.16 L287.58,261.16 L288.51,260.15 L289.43,259.13 L290.36,258.10 L291.29,257.05 L292.21,255.99 L293.14,254.93 L294.07,253.85 L294.99,252.76 L295.92,251.65 L296.84,250.54 L297.77,249.42 L298.69,248.28 L299.61,247.14 L300.54,245.98 L301.46,244.82 L302.39,243.64 L303.31,242.46 L304.23,241.27 L305.16,240.07 L306.08,238.87 L307.00,237.66 L307.93,236.45 L308.85,235.24 L309.77,234.02 L310.70,232.81 L311.62,231.59 L312.54,230.38 L313.46,229.17 L314.38,227.96 L315.30,226.76 L316.22,225.57 L317.14,224.38 L318.06,223.21 L318.97,222.06 L319.89,220.93 L320.80,219.82 L321.72,218.73 L322.63,217.66 L323.54,216.61 L324.45,215.59 L325.36,214.59 L326.27,213.62 L327.18,212.68 L328.08,211.76 L328.98,210.88 L329.89,210.02 L330.79,209.19 L331.69,208.40 L332.59,207.64 L333.48,206.92 L334.38,206.23 L335.27,205.57 L336.16,204.96 L337.05,204.38 L337.94,203.84 L338.83,203.34 L339.71,202.88 L340.60,202.46 L341.48,202.07 L342.36,201.73 L343.24,201.44 L344.12,201.18 L345.00,200.96 L345.87,200.79 L346.75,200.67 L347.62,200.59 L348.49,200.55 L349.37,200.57 L350.24,200.64 L351.11,200.76 L351.97,200.93 L352.84,201.14 L353.71,201.41 L354.58,201.74 L355.44,202.11 L356.31,202.54 L357.17,203.02 L358.04,203.56 L358.90,204.14 L359.76,204.79 L360.62,205.49 L361.48,206.24 L362.34,207.06 L363.21,207.93 L364.06,208.85 L364.92,209.84 L365.78,210.88 L366.64,211.98 L367.50,213.14 L368.36,214.36 L369.22,215.64 L370.08,216.98 L370.93,218.37 L371.79,219.81 L372.65,221.30 L373.52,222.84 L374.38,224.42 L375.25,226.05 L376.12,227.70 L376.99,229.38 L377.87,231.07 L378.74,232.77 L379.63,234.50 L380.52,236.23 L381.41,237.97 L382.31,239.72 L383.21,241.48 L384.12,243.24 L385.03,245.00 L385.95,246.76 L386.88,248.51 L387.82,250.27 L388.76,252.01 L389.71,253.75 L390.66,255.47 L391.63,257.18 L392.60,258.88 L393.59,260.55 L394.58,262.21 L395.58,263.85 L396.59,265.46 L397.61,267.04 L398.64,268.60 L399.68,270.13 L400.74,271.62 L401.80,273.08 L402.88,274.51 L403.96,275.89 L405.07,277.24 L406.18,278.55 L407.32,279.83 L408.47,281.07 L409.65,282.29 L410.86,283.48 L412.09,284.64 L413.35,285.77 L414.64,286.88 L415.96,287.96 L417.32,289.01 L418.70,290.04 L420.13,291.05 L421.59,292.03 L423.09,292.99 L424.63,293.92 L426.21,294.83 L427.83,295.72 L429.50,296.59 L431.21,297.43 L432.97,298.25 L434.78,299.06 L436.64,299.84 L438.55,300.60 L440.51,301.35 L442.53,302.07 L444.60,302.78 L446.73,303.47 L448.92,304.14 L451.17,304.80 L453.48,305.44 L455.85,306.06 L458.29,306.67 L460.79,307.26 L463.36,307.84 L466.00,308.40" fill="none" stroke="#0000ff" stroke-width="1.3" stroke-dasharray="4.8 4.0"/>
<rect x="266.75" y="271.05" width="5.3" height="5.3" fill="#fff" stroke="#000" stroke-width="1.0"/>
<rect x="301.05" y="211.45" width="5.3" height="5.3" fill="#fff" stroke="#000" stroke-width="1.0"/>
<rect x="335.95" y="123.85" width="5.3" height="5.3" fill="#fff" stroke="#000" stroke-width="1.0"/>
<rect x="361.65" y="33.75" width="5.3" height="5.3" fill="#fff" stroke="#000" stroke-width="1.0"/>
<rect x="393.95" y="156.05" width="5.3" height="5.3" fill="#fff" stroke="#000" stroke-width="1.0"/>
<rect x="429.15" y="282.85" width="5.3" height="5.3" fill="#fff" stroke="#000" stroke-width="1.0"/>
<rect x="463.35" y="307.35" width="5.3" height="5.3" fill="#fff" stroke="#000" stroke-width="1.0"/>
<path d="M115.00,306.30 L116.08,308.91 L118.90,309.13 L116.75,310.97 L117.41,313.72 L115.00,312.25 L112.59,313.72 L113.25,310.97 L111.10,309.13 L113.92,308.91Z" fill="#fff" stroke="#ff0000" stroke-width="1.0"/>
<path d="M153.00,303.80 L154.08,306.41 L156.90,306.63 L154.75,308.47 L155.41,311.22 L153.00,309.75 L150.59,311.22 L151.25,308.47 L149.10,306.63 L151.92,306.41Z" fill="#fff" stroke="#ff0000" stroke-width="1.0"/>
<path d="M192.40,299.80 L193.48,302.41 L196.30,302.63 L194.15,304.47 L194.81,307.22 L192.40,305.75 L189.99,307.22 L190.65,304.47 L188.50,302.63 L191.32,302.41Z" fill="#fff" stroke="#ff0000" stroke-width="1.0"/>
<path d="M230.60,292.80 L231.68,295.41 L234.50,295.63 L232.35,297.47 L233.01,300.22 L230.60,298.75 L228.19,300.22 L228.85,297.47 L226.70,295.63 L229.52,295.41Z" fill="#fff" stroke="#ff0000" stroke-width="1.0"/>
<path d="M266.60,273.60 L267.68,276.21 L270.50,276.43 L268.35,278.27 L269.01,281.02 L266.60,279.55 L264.19,281.02 L264.85,278.27 L262.70,276.43 L265.52,276.21Z" fill="#fff" stroke="#ff0000" stroke-width="1.0"/>
<path d="M299.90,236.50 L300.98,239.11 L303.80,239.33 L301.65,241.17 L302.31,243.92 L299.90,242.44 L297.49,243.92 L298.15,241.17 L296.00,239.33 L298.82,239.11Z" fill="#fff" stroke="#ff0000" stroke-width="1.0"/>
<path d="M335.00,192.30 L336.08,194.91 L338.90,195.13 L336.75,196.97 L337.41,199.72 L335.00,198.25 L332.59,199.72 L333.25,196.97 L331.10,195.13 L333.92,194.91Z" fill="#fff" stroke="#ff0000" stroke-width="1.0"/>
<path d="M366.00,160.20 L367.08,162.81 L369.90,163.03 L367.75,164.87 L368.41,167.62 L366.00,166.15 L363.59,167.62 L364.25,164.87 L362.10,163.03 L364.92,162.81Z" fill="#fff" stroke="#ff0000" stroke-width="1.0"/>
<path d="M398.00,213.30 L399.08,215.91 L401.90,216.13 L399.75,217.97 L400.41,220.72 L398.00,219.25 L395.59,220.72 L396.25,217.97 L394.10,216.13 L396.92,215.91Z" fill="#fff" stroke="#ff0000" stroke-width="1.0"/>
<path d="M431.50,275.30 L432.58,277.91 L435.40,278.13 L433.25,279.97 L433.91,282.72 L431.50,281.25 L429.09,282.72 L429.75,279.97 L427.60,278.13 L430.42,277.91Z" fill="#fff" stroke="#ff0000" stroke-width="1.0"/>
<path d="M466.00,302.30 L467.08,304.91 L469.90,305.13 L467.75,306.97 L468.41,309.72 L466.00,308.25 L463.59,309.72 L464.25,306.97 L462.10,305.13 L464.92,304.91Z" fill="#fff" stroke="#ff0000" stroke-width="1.0"/>
<circle cx="114.60" cy="309.20" r="3.1" fill="#fff" stroke="#00ff00" stroke-width="1.0"/>
<circle cx="153.00" cy="308.00" r="3.1" fill="#fff" stroke="#00ff00" stroke-width="1.0"/>
<circle cx="191.00" cy="306.00" r="3.1" fill="#fff" stroke="#00ff00" stroke-width="1.0"/>
<circle cx="230.00" cy="300.50" r="3.1" fill="#fff" stroke="#00ff00" stroke-width="1.0"/>
<circle cx="266.10" cy="288.20" r="3.1" fill="#fff" stroke="#00ff00" stroke-width="1.0"/>
<circle cx="302.10" cy="254.60" r="3.1" fill="#fff" stroke="#00ff00" stroke-width="1.0"/>
<circle cx="336.00" cy="189.50" r="3.1" fill="#fff" stroke="#00ff00" stroke-width="1.0"/>
<circle cx="369.50" cy="178.90" r="3.1" fill="#fff" stroke="#00ff00" stroke-width="1.0"/>
<circle cx="397.90" cy="217.30" r="3.1" fill="#fff" stroke="#00ff00" stroke-width="1.0"/>
<circle cx="431.50" cy="282.70" r="3.1" fill="#fff" stroke="#00ff00" stroke-width="1.0"/>
<circle cx="466.00" cy="309.00" r="3.1" fill="#fff" stroke="#00ff00" stroke-width="1.0"/>
<path d="M112.20,306.80 L119.80,306.80 L116.00,313.40Z" fill="#fff" stroke="#0000ff" stroke-width="1.0" stroke-linejoin="miter"/>
<path d="M150.20,305.60 L157.80,305.60 L154.00,312.20Z" fill="#fff" stroke="#0000ff" stroke-width="1.0" stroke-linejoin="miter"/>
<path d="M188.50,302.60 L196.10,302.60 L192.30,309.20Z" fill="#fff" stroke="#0000ff" stroke-width="1.0" stroke-linejoin="miter"/>
<path d="M226.40,295.90 L234.00,295.90 L230.20,302.50Z" fill="#fff" stroke="#0000ff" stroke-width="1.0" stroke-linejoin="miter"/>
<path d="M263.30,281.30 L270.90,281.30 L267.10,287.90Z" fill="#fff" stroke="#0000ff" stroke-width="1.0" stroke-linejoin="miter"/>
<path d="M297.20,245.40 L304.80,245.40 L301.00,252.00Z" fill="#fff" stroke="#0000ff" stroke-width="1.0" stroke-linejoin="miter"/>
<path d="M331.10,195.80 L338.70,195.80 L334.90,202.40Z" fill="#fff" stroke="#0000ff" stroke-width="1.0" stroke-linejoin="miter"/>
<path d="M362.80,196.40 L370.40,196.40 L366.60,203.00Z" fill="#fff" stroke="#0000ff" stroke-width="1.0" stroke-linejoin="miter"/>
<path d="M394.10,277.60 L401.70,277.60 L397.90,284.20Z" fill="#fff" stroke="#0000ff" stroke-width="1.0" stroke-linejoin="miter"/>
<path d="M427.60,299.00 L435.20,299.00 L431.40,305.60Z" fill="#fff" stroke="#0000ff" stroke-width="1.0" stroke-linejoin="miter"/>
<path d="M462.20,306.20 L469.80,306.20 L466.00,312.80Z" fill="#fff" stroke="#0000ff" stroke-width="1.0" stroke-linejoin="miter"/>
</g>
<rect x="67.0" y="13.7" width="408.0" height="319.1" fill="none" stroke="#000" stroke-width="1.8"/>
<path d="M66.60,332.8 V325.8 M101.96,332.8 V325.8 M137.32,332.8 V325.8 M172.68,332.8 V325.8 M208.04,332.8 V325.8 M243.40,332.8 V325.8 M278.76,332.8 V325.8 M314.12,332.8 V325.8 M349.48,332.8 V325.8 M384.84,332.8 V325.8 M420.20,332.8 V325.8 M455.56,332.8 V325.8 M67.0,310.90 H73.8 M67.0,289.63 H70.6 M67.0,268.37 H73.8 M67.0,247.10 H70.6 M67.0,225.84 H73.8 M67.0,204.57 H70.6 M67.0,183.31 H73.8 M67.0,162.04 H70.6 M67.0,140.78 H73.8 M67.0,119.51 H70.6 M67.0,98.25 H73.8 M67.0,76.98 H70.6 M67.0,55.72 H73.8 M67.0,34.45 H70.6 M475.0,310.30 H468.2 M475.0,287.44 H471.4 M475.0,264.57 H468.2 M475.0,241.71 H471.4 M475.0,218.84 H468.2 M475.0,195.98 H471.4 M475.0,173.11 H468.2 M475.0,150.25 H471.4 M475.0,127.38 H468.2 M475.0,104.52 H471.4 M475.0,81.65 H468.2 M475.0,58.79 H471.4 M475.0,35.92 H468.2" stroke="#000" stroke-width="1.6" fill="none"/>
<text x="60.2" y="315.20" font-family="Liberation Sans, Arial, sans-serif" font-size="12" text-anchor="end">0</text>
<text x="60.2" y="272.67" font-family="Liberation Sans, Arial, sans-serif" font-size="12" text-anchor="end">1000</text>
<text x="60.2" y="230.14" font-family="Liberation Sans, Arial, sans-serif" font-size="12" text-anchor="end">2000</text>
<text x="60.2" y="187.61" font-family="Liberation Sans, Arial, sans-serif" font-size="12" text-anchor="end">3000</text>
<text x="60.2" y="145.08" font-family="Liberation Sans, Arial, sans-serif" font-size="12" text-anchor="end">4000</text>
<text x="60.2" y="102.55" font-family="Liberation Sans, Arial, sans-serif" font-size="12" text-anchor="end">5000</text>
<text x="60.2" y="60.02" font-family="Liberation Sans, Arial, sans-serif" font-size="12" text-anchor="end">6000</text>
<text x="60.2" y="17.49" font-family="Liberation Sans, Arial, sans-serif" font-size="12" text-anchor="end">7000</text>
<text x="481.3" y="314.60" font-family="Liberation Sans, Arial, sans-serif" font-size="12">0.0000</text>
<text x="481.3" y="268.87" font-family="Liberation Sans, Arial, sans-serif" font-size="12">0.0005</text>
<text x="481.3" y="223.14" font-family="Liberation Sans, Arial, sans-serif" font-size="12">0.0010</text>
<text x="481.3" y="177.41" font-family="Liberation Sans, Arial, sans-serif" font-size="12">0.0015</text>
<text x="481.3" y="131.68" font-family="Liberation Sans, Arial, sans-serif" font-size="12">0.0020</text>
<text x="481.3" y="85.95" font-family="Liberation Sans, Arial, sans-serif" font-size="12">0.0025</text>
<text x="481.3" y="40.22" font-family="Liberation Sans, Arial, sans-serif" font-size="12">0.0030</text>
<text x="57.17" y="352.6" font-family="Liberation Sans, Arial, sans-serif" font-size="12">10<tspan dy="-6.2" font-size="8">-6</tspan></text>
<text x="92.53" y="352.6" font-family="Liberation Sans, Arial, sans-serif" font-size="12">10<tspan dy="-6.2" font-size="8">-5</tspan></text>
<text x="127.89" y="352.6" font-family="Liberation Sans, Arial, sans-serif" font-size="12">10<tspan dy="-6.2" font-size="8">-4</tspan></text>
<text x="163.25" y="352.6" font-family="Liberation Sans, Arial, sans-serif" font-size="12">10<tspan dy="-6.2" font-size="8">-3</tspan></text>
<text x="198.61" y="352.6" font-family="Liberation Sans, Arial, sans-serif" font-size="12">10<tspan dy="-6.2" font-size="8">-2</tspan></text>
<text x="233.97" y="352.6" font-family="Liberation Sans, Arial, sans-serif" font-size="12">10<tspan dy="-6.2" font-size="8">-1</tspan></text>
<text x="270.66" y="352.6" font-family="Liberation Sans, Arial, sans-serif" font-size="12">10<tspan dy="-6.2" font-size="8">0</tspan></text>
<text x="306.02" y="352.6" font-family="Liberation Sans, Arial, sans-serif" font-size="12">10<tspan dy="-6.2" font-size="8">1</tspan></text>
<text x="341.38" y="352.6" font-family="Liberation Sans, Arial, sans-serif" font-size="12">10<tspan dy="-6.2" font-size="8">2</tspan></text>
<text x="376.74" y="352.6" font-family="Liberation Sans, Arial, sans-serif" font-size="12">10<tspan dy="-6.2" font-size="8">3</tspan></text>
<text x="412.10" y="352.6" font-family="Liberation Sans, Arial, sans-serif" font-size="12">10<tspan dy="-6.2" font-size="8">4</tspan></text>
<text x="447.46" y="352.6" font-family="Liberation Sans, Arial, sans-serif" font-size="12">10<tspan dy="-6.2" font-size="8">5</tspan></text>
<text x="271" y="377.6" font-family="Liberation Sans, Arial, sans-serif" font-size="15.1" text-anchor="middle">Time (s)</text>
<text transform="translate(19.5,183.5) rotate(-90)" font-family="Liberation Sans, Arial, sans-serif" font-size="15.9" text-anchor="middle">Relaxation Spectrum (MPa)</text>
<text transform="translate(539.9,182.4) rotate(-90)" font-family="Liberation Sans, Arial, sans-serif" font-size="15.9" text-anchor="middle">Retardation Spectrum (MPa<tspan dy="-8.4" font-size="8.6">-1</tspan><tspan dy="8.4">)</tspan></text>
<rect x="71.8" y="208.9" width="162.3" height="83.80000000000001" fill="#000"/>
<rect x="67.2" y="204.5" width="162.3" height="83.80000000000001" fill="#fff" stroke="#000" stroke-width="1.1"/>
<path d="M75.3,212.40 H91.3" stroke="#000" stroke-width="1.0"/>
<rect x="80.10" y="209.40" width="6.0" height="6.0" fill="#000"/>
<text x="92.9" y="214.90" font-family="Liberation Sans, Arial, sans-serif" font-size="7.28">HMA-60 Discrete Relaxation Spectrum</text>
<path d="M75.3,222.22 H91.3" stroke="#ff0000" stroke-width="1.0"/>
<path d="M83.10,218.22 L84.39,220.84 L87.28,221.26 L85.19,223.30 L85.69,226.18 L83.10,224.82 L80.51,226.18 L81.01,223.30 L78.92,221.26 L81.81,220.84Z" fill="#ff0000"/>
<text x="92.9" y="224.72" font-family="Liberation Sans, Arial, sans-serif" font-size="7.28">WMA-60 Discrete Relaxation Spectrum</text>
<path d="M75.3,232.04 H91.3" stroke="#00ff00" stroke-width="1.0"/>
<circle cx="83.10" cy="232.04" r="3.6" fill="#00ff00"/>
<text x="92.9" y="234.54" font-family="Liberation Sans, Arial, sans-serif" font-size="7.28">HMA-C Discrete Relaxation Spectrum</text>
<path d="M75.3,241.86 H91.3" stroke="#0000ff" stroke-width="1.0"/>
<path d="M78.90,239.39 L87.30,239.39 L83.10,246.79Z" fill="#0000ff"/>
<text x="92.9" y="244.36" font-family="Liberation Sans, Arial, sans-serif" font-size="7.28">WMA-C Discrete Relaxation Spectrum</text>
<rect x="80.45" y="249.03" width="5.3" height="5.3" fill="#fff" stroke="#000" stroke-width="1.0"/>
<text x="92.9" y="254.18" font-family="Liberation Sans, Arial, sans-serif" font-size="7.28">HMA-60 Discrete Retardation Spectrum</text>
<path d="M83.10,257.80 L84.18,260.41 L87.00,260.63 L84.85,262.47 L85.51,265.22 L83.10,263.75 L80.69,265.22 L81.35,262.47 L79.20,260.63 L82.02,260.41Z" fill="#fff" stroke="#ff0000" stroke-width="1.0"/>
<text x="92.9" y="264.00" font-family="Liberation Sans, Arial, sans-serif" font-size="7.28">WMA-60 Discrete Retardation Spectrum</text>
<circle cx="83.10" cy="271.32" r="3.1" fill="#fff" stroke="#00ff00" stroke-width="1.0"/>
<text x="92.9" y="273.82" font-family="Liberation Sans, Arial, sans-serif" font-size="7.28">HMA-C Discrete Retardation Spectrum</text>
<path d="M79.30,278.94 L86.90,278.94 L83.10,285.54Z" fill="#fff" stroke="#0000ff" stroke-width="1.0" stroke-linejoin="miter"/>
<text x="92.9" y="283.64" font-family="Liberation Sans, Arial, sans-serif" font-size="7.28">WMA-C Discrete Retardation Spectrum</text>
</svg></body></html>
